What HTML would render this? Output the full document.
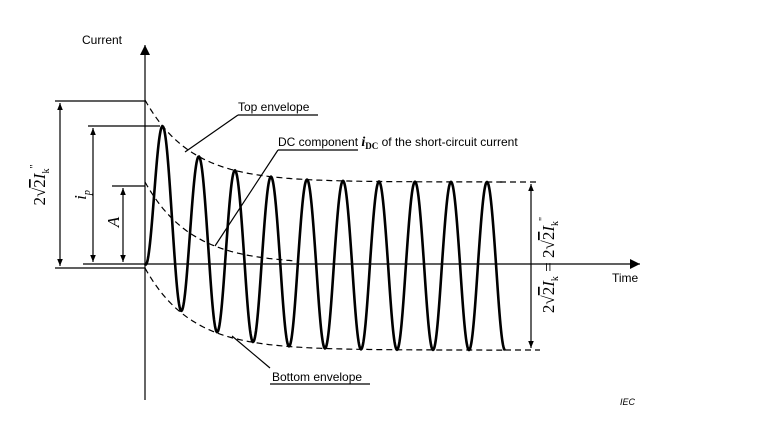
<!DOCTYPE html>
<html><head><style>
body{margin:0;background:#fff;}
svg{display:block;font-family:"Liberation Sans",sans-serif;}
</style></head><body>
<svg id="s" width="768" height="432" viewBox="0 0 768 432">
<defs>
<marker id="ar" viewBox="0 0 10 10" refX="10" refY="5" markerWidth="6" markerHeight="6" orient="auto-start-reverse"><path d="M0,1 L10,5 L0,9 z" fill="#000"/></marker>
<marker id="big" viewBox="0 0 10 10" refX="10" refY="5" markerWidth="14" markerHeight="10" markerUnits="userSpaceOnUse" orient="auto"><path d="M0,0 L10,5 L0,10 z" fill="#000"/></marker>
</defs>
<g stroke="#000" stroke-width="1.2" fill="none">
<line x1="145" y1="400" x2="145" y2="45" marker-end="url(#big)"/>
<line x1="83" y1="264" x2="640" y2="264" marker-end="url(#big)"/>
<line x1="55" y1="101" x2="145" y2="101"/>
<line x1="55" y1="268" x2="145" y2="268"/>
<line x1="88" y1="126" x2="160" y2="126"/>
<line x1="112" y1="186" x2="145" y2="186"/>
<line x1="60" y1="103" x2="60" y2="266" marker-start="url(#ar)" marker-end="url(#ar)"/>
<line x1="93" y1="128" x2="93" y2="262" marker-start="url(#ar)" marker-end="url(#ar)"/>
<line x1="123" y1="188" x2="123" y2="262" marker-start="url(#ar)" marker-end="url(#ar)"/>
<line x1="531" y1="184" x2="531" y2="348" marker-start="url(#ar)" marker-end="url(#ar)"/>
<line x1="238" y1="115" x2="318" y2="115"/>
<line x1="238" y1="115" x2="185" y2="152"/>
<line x1="278" y1="150" x2="358" y2="150"/>
<line x1="278" y1="150" x2="215" y2="246"/>
<line x1="270" y1="368" x2="232" y2="336"/>
<line x1="270" y1="384" x2="370" y2="384"/>
</g>
<g stroke="#000" stroke-width="1.2" fill="none" stroke-dasharray="6,4">
<path id="top"/><path id="bot"/><path id="dc"/>
<line x1="500" y1="182" x2="540" y2="182"/>
<line x1="505" y1="350" x2="540" y2="350"/>
</g>
<path id="w" stroke="#000" stroke-width="2.6" fill="none"/>
<g font-size="12" fill="#000">
<text x="82" y="44">Current</text>
<text x="238" y="111">Top envelope</text>
<text x="278" y="146">DC component <tspan font-family="Liberation Serif" font-style="italic" font-weight="bold" font-size="14">i</tspan><tspan font-family="Liberation Serif" font-weight="bold" font-size="9" dy="3">DC</tspan><tspan dy="-3"> of the short-circuit current</tspan></text>
<text x="272" y="381">Bottom envelope</text>
<text x="612" y="282">Time</text>
<text x="620" y="405" font-size="9" font-style="italic">IEC</text>
</g>
<g font-family="Liberation Serif" font-size="17" fill="#000">
<text transform="translate(45,185) rotate(-90)" text-anchor="middle">2√<tspan text-decoration="overline">2</tspan><tspan font-style="italic">I</tspan><tspan font-size="10" dy="4">k</tspan><tspan font-size="10" dy="-12">"</tspan></text>
<text transform="translate(86,195) rotate(-90)" text-anchor="middle" font-style="italic">i<tspan font-size="10" dy="4">p</tspan></text>
<text transform="translate(119,222) rotate(-90)" text-anchor="middle" font-style="italic">A</text>
<text transform="translate(554,265) rotate(-90)" text-anchor="middle">2√<tspan text-decoration="overline">2</tspan><tspan font-style="italic">I</tspan><tspan font-size="10" dy="4">k</tspan><tspan dy="-4"> = 2√</tspan><tspan text-decoration="overline">2</tspan><tspan font-style="italic">I</tspan><tspan font-size="10" dy="4">k</tspan><tspan font-size="10" dy="-12">"</tspan></text>
</g>
</svg>
<script>
var tau=46,a=82,w=2*Math.PI/36;
function d(t){return 82*Math.exp(-t/tau);}
function amp(t){return a+4*(1-Math.exp(-t/tau))*0.5*(1-Math.cos(w*t))*0;}
var W="",T="",B="",D="";
for(var t=0;t<=360;t+=0.5){var x=145+t;
var i=d(t)-a*Math.cos(w*t);
if(i<0)i*=1.05;
W+=(t?"L":"M")+x.toFixed(1)+","+(264-i).toFixed(1);}
for(var t=0;t<=360;t+=2){var x=145+t;
T+=(t?"L":"M")+x+","+(264-d(t)-a).toFixed(1);
B+=(t?"L":"M")+x+","+(264-d(t)+a*1.05).toFixed(1);
if(t<=150)D+=(t?"L":"M")+x+","+(264-d(t)).toFixed(1);}
document.getElementById("w").setAttribute("d",W);
document.getElementById("top").setAttribute("d",T);
document.getElementById("bot").setAttribute("d",B);
document.getElementById("dc").setAttribute("d",D);
</script>
</body></html>
